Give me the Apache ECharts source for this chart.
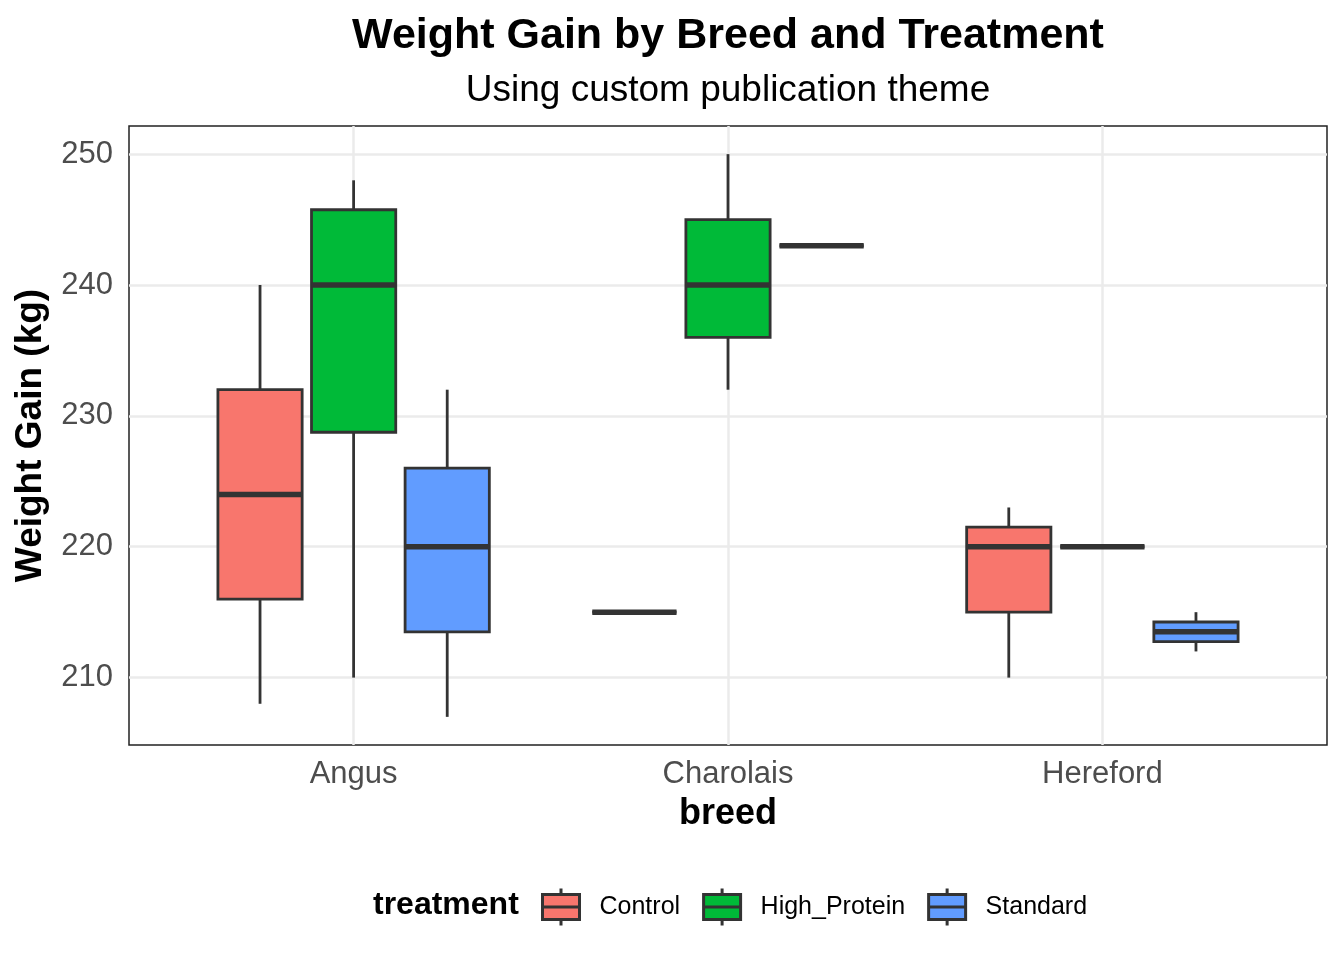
<!DOCTYPE html>
<html>
<head>
<meta charset="utf-8">
<script src="https://cdn.jsdelivr.net/npm/echarts@6/dist/echarts.min.js"></script>
<style>
  html, body { margin: 0; padding: 0; background: #ffffff; }
  #chart { width: 1344px; height: 960px; }
</style>
</head>
<body>
<div id="chart"></div>
<script>
// ---- Data ----
const breeds = ['Angus', 'Charolais', 'Hereford'];
const treatments = ['Control', 'High_Protein', 'Standard'];
// each entry: [lower whisker, Q1, median, Q3, upper whisker] per breed
const controlStats = [
  [208, 216, 224, 232, 240],
  [215, 215, 215, 215, 215],
  [210, 215, 220, 221.5, 223]
];
const highProteinStats = [
  [210, 228.75, 240, 245.75, 248],
  [232, 236, 240, 245, 250],
  [220, 220, 220, 220, 220]
];
const standardStats = [
  [207, 213.5, 220, 226, 232],
  [243, 243, 243, 243, 243],
  [212, 212.75, 213.5, 214.25, 215]
];
const yTicks = [210, 220, 230, 240, 250];
const colors = ['#F8766D', '#00BA38', '#619CFF'];

const statsByTreatment = [controlStats, highProteinStats, standardStats];
const FONT = "'Liberation Sans', Arial, Helvetica, sans-serif";
const DODGE = 0.25;      // dodge spacing between treatments (ggplot width 0.75 / 3)
const BOX_W = 0.225;     // box width in category units
const LW = 2.8;
const MED_LW = 5.5;

function renderBox(params, api) {
  const x = api.value(0);
  const pLow = api.coord([x, api.value(1)]);
  const pQ1 = api.coord([x, api.value(2)]);
  const pMed = api.coord([x, api.value(3)]);
  const pQ3 = api.coord([x, api.value(4)]);
  const pHigh = api.coord([x, api.value(5)]);
  const w = api.size([BOX_W, 0])[0];
  const cx = pMed[0];
  const fill = api.visual('color');
  const stroke = '#333333';
  return {
    type: 'group',
    children: [
      { type: 'line', shape: { x1: cx, y1: pLow[1], x2: cx, y2: pQ1[1] },
        style: { stroke: stroke, lineWidth: LW } },
      { type: 'line', shape: { x1: cx, y1: pQ3[1], x2: cx, y2: pHigh[1] },
        style: { stroke: stroke, lineWidth: LW } },
      { type: 'rect', shape: { x: cx - w / 2, y: pQ3[1], width: w, height: pQ1[1] - pQ3[1] },
        style: { fill: fill, stroke: stroke, lineWidth: LW } },
      { type: 'line', shape: { x1: cx - w / 2, y1: pMed[1], x2: cx + w / 2, y2: pMed[1] },
        style: { stroke: stroke, lineWidth: MED_LW } }
    ]
  };
}

const series = treatments.map(function (t, si) {
  const offset = (si - 1) * DODGE;
  return {
    name: t,
    type: 'custom',
    renderItem: renderBox,
    itemStyle: { color: colors[si], borderColor: '#333333', borderWidth: LW },
    encode: { x: 0, y: [1, 2, 3, 4, 5] },
    data: statsByTreatment[si].map(function (s, bi) {
      return [bi + 1 + offset].concat(s);
    }),
    z: 3
  };
});

const legendIcon = 'path://M0,6 L37,6 L37,31 L0,31 Z M0,18.5 L37,18.5 M18.5,0 L18.5,6 M18.5,31 L18.5,37';

const option = {
  animation: false,
  backgroundColor: '#ffffff',
  title: [
    {
      text: 'Weight Gain by Breed and Treatment',
      subtext: 'Using custom publication theme',
      left: 723,
      top: 10,
      textAlign: 'center',
      itemGap: 14,
      textStyle: { fontFamily: FONT, fontSize: 43, fontWeight: 'bold', color: '#000000' },
      subtextStyle: { fontFamily: FONT, fontSize: 37, color: '#000000' }
    },
    {
      text: 'treatment',
      left: 373,
      top: 889,
      padding: 0,
      textStyle: { fontFamily: FONT, fontSize: 32, fontWeight: 'bold', color: '#000000' }
    }
  ],
  grid: {
    left: 129, right: 17, top: 126, bottom: 215,
    show: true, borderColor: '#222222', borderWidth: 1.5, backgroundColor: '#ffffff',
    containLabel: false
  },
  legend: {
    data: treatments,
    left: 541,
    top: 887,
    padding: 0,
    orient: 'horizontal',
    icon: legendIcon,
    itemWidth: 37,
    itemHeight: 37,
    itemGap: 22,
    itemStyle: { borderColor: '#333333', borderWidth: 3 },
    textStyle: { fontFamily: FONT, fontSize: 25, color: '#000000', padding: [0, 0, 0, 15] }
  },
  xAxis: {
    type: 'value',
    min: 0.4,
    max: 3.6,
    name: 'breed',
    nameLocation: 'middle',
    nameGap: 51,
    nameTextStyle: { fontFamily: FONT, fontSize: 36, fontWeight: 'bold', color: '#000000' },
    axisLine: { show: false },
    axisTick: { show: false, customValues: [1, 2, 3] },
    axisLabel: {
      customValues: [1, 2, 3],
      margin: 14,
      fontFamily: FONT, fontSize: 31, color: '#4D4D4D',
      formatter: function (v) { return breeds[Math.round(v) - 1] || ''; }
    },
    splitLine: { show: true, lineStyle: { color: '#EBEBEB', width: 2.5 } }
  },
  yAxis: {
    type: 'value',
    min: 204.85,
    max: 252.15,
    name: 'Weight Gain (kg)',
    nameLocation: 'middle',
    nameGap: 80,
    nameTextStyle: { fontFamily: FONT, fontSize: 37, fontWeight: 'bold', color: '#000000' },
    axisLine: { show: false },
    axisTick: { show: false, customValues: yTicks },
    axisLabel: {
      customValues: yTicks,
      margin: 16,
      fontFamily: FONT, fontSize: 31, color: '#4D4D4D'
    },
    splitLine: { show: true, lineStyle: { color: '#EBEBEB', width: 2.5 } }
  },
  series: series
};

const chart = echarts.init(document.getElementById('chart'), null, { renderer: 'canvas' });
chart.setOption(option);
</script>
</body>
</html>
